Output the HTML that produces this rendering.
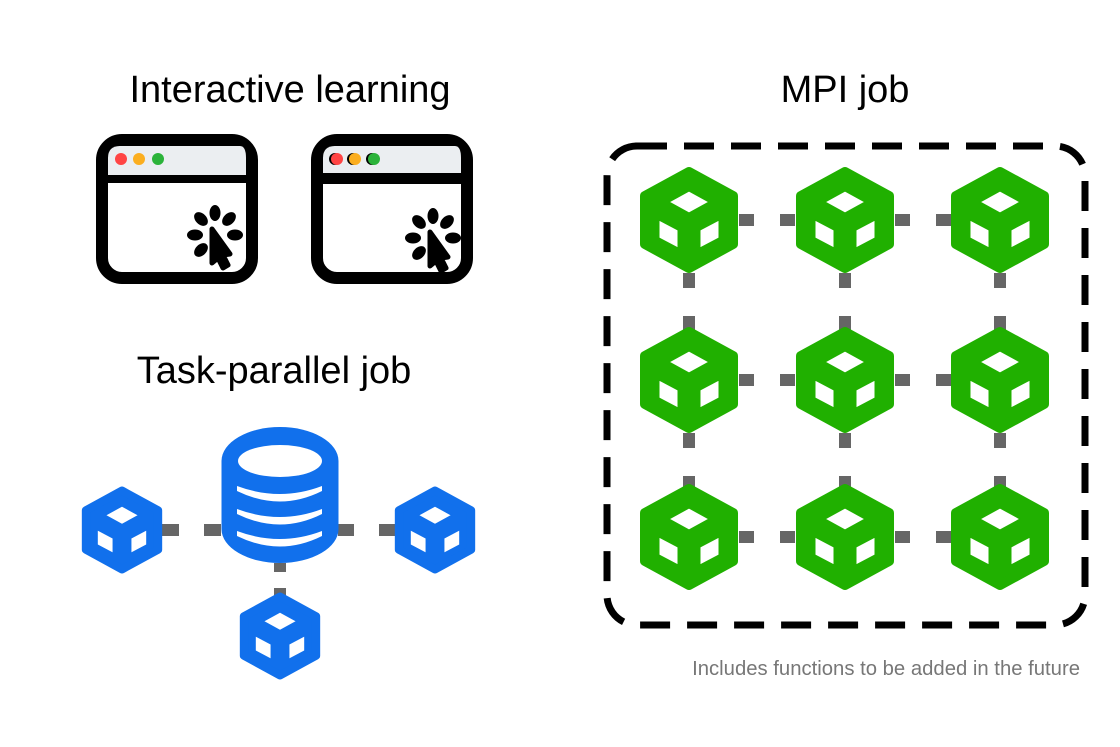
<!DOCTYPE html>
<html><head><meta charset="utf-8"><style>
html,body{margin:0;padding:0;background:#fff;}
svg{display:block;}
text{font-family:"Liberation Sans",sans-serif;}
</style></head><body>
<svg width="1120" height="747" viewBox="0 0 1120 747" xmlns="http://www.w3.org/2000/svg">
<defs>
<g id="cube">
<polygon points="0,-48 44,-24 44,24 0,48 -44,24 -44,-24" stroke-linejoin="round" stroke-width="10"/>
<polygon points="0,-29 20,-18 0,-7 -20,-18" fill="#fff"/>
<polygon points="-30,0 -11,10 -11,28 -30,18" fill="#fff"/>
<polygon points="11,10 30,0 30,18 11,28" fill="#fff"/>
</g>
<g id="burst">
<g fill="#000">
<ellipse cx="0" cy="-21" rx="5.5" ry="8"/>
<ellipse cx="-14" cy="-15" rx="5.5" ry="8" transform="rotate(-45 -14 -15)"/>
<ellipse cx="14" cy="-15" rx="5.5" ry="8" transform="rotate(45 14 -15)"/>
<ellipse cx="-20" cy="1" rx="8" ry="5.5"/>
<ellipse cx="20" cy="1" rx="8" ry="5.5"/>
<ellipse cx="-14" cy="16" rx="5.5" ry="8" transform="rotate(45 -14 16)"/>
<path d="M-3,-5 L15,20 L8,21 L13,31 L8,34 L3,24 L-3,29 Z" stroke="#000" stroke-width="5" stroke-linejoin="round"/>
</g>
</g>
</defs>

<text x="290" y="102" font-size="38" text-anchor="middle" fill="#000">Interactive learning</text>
<text x="845" y="102" font-size="38" text-anchor="middle" fill="#000">MPI job</text>
<text x="274" y="383" font-size="38" text-anchor="middle" fill="#000">Task-parallel job</text>
<text x="1080" y="675" font-size="20.3" text-anchor="end" fill="#777">Includes functions to be added in the future</text>

<!-- browser 1 -->
<rect x="102" y="140" width="150" height="138" rx="20" fill="#fff" stroke="#000" stroke-width="12"/>
<path d="M108,175 V158 Q108,146 120,146 H240 Q246,146 246,158 V175 Z" fill="#ebeef1"/>
<rect x="102" y="175" width="150" height="8" fill="#000"/>
<circle cx="121" cy="159" r="6" fill="#f44"/>
<circle cx="139" cy="159" r="6" fill="#fbae1f"/>
<circle cx="158" cy="159" r="6" fill="#2bb33a"/>
<use href="#burst" x="215" y="234"/>

<!-- browser 2 -->
<rect x="317" y="140" width="150" height="138" rx="20" fill="#fff" stroke="#000" stroke-width="12"/>
<path d="M323,177 V158 Q323,146 335,146 H455 Q461,146 461,158 V177 Z" fill="#ebeef1"/>
<rect x="317" y="173" width="150" height="11" fill="#000"/>
<circle cx="335" cy="159" r="6" fill="#000"/><circle cx="337" cy="159" r="6" fill="#f44"/>
<circle cx="353" cy="159" r="6" fill="#000"/><circle cx="355" cy="159" r="6" fill="#fbae1f"/>
<circle cx="372" cy="159" r="6" fill="#000"/><circle cx="374" cy="159" r="6" fill="#2bb33a"/>
<use href="#burst" x="433" y="237"/>

<!-- dashed box -->
<rect x="607" y="146" width="478" height="479" rx="30" fill="none" stroke="#000" stroke-width="7" stroke-dasharray="30 17"/>

<!-- MPI connectors -->
<g fill="#666">
<g id="hrow">
<rect x="739" y="214" width="15" height="12"/><rect x="780" y="214" width="15" height="12"/>
<rect x="895" y="214" width="15" height="12"/><rect x="936" y="214" width="15" height="12"/>
</g>
<use href="#hrow" y="160"/><use href="#hrow" y="317"/>
<g id="vcol">
<rect x="683" y="273" width="12" height="15"/><rect x="683" y="316" width="12" height="14"/>
<rect x="683" y="433" width="12" height="15"/><rect x="683" y="476" width="12" height="14"/>
</g>
<use href="#vcol" x="156"/><use href="#vcol" x="311"/>
</g>
<g fill="#20b000" stroke="#20b000">
<use href="#cube" x="689" y="220"/><use href="#cube" x="845" y="220"/><use href="#cube" x="1000" y="220"/>
<use href="#cube" x="689" y="380"/><use href="#cube" x="845" y="380"/><use href="#cube" x="1000" y="380"/>
<use href="#cube" x="689" y="537"/><use href="#cube" x="845" y="537"/><use href="#cube" x="1000" y="537"/>
</g>

<!-- task parallel -->
<g fill="#666">
<rect x="162" y="524" width="17" height="12"/><rect x="204" y="524" width="17" height="12"/>
<rect x="338" y="524" width="16" height="12"/><rect x="379" y="524" width="16" height="12"/>
<rect x="274" y="563" width="12" height="9"/><rect x="274" y="588" width="12" height="8"/>
</g>
<g fill="#1170ec" stroke="#1170ec">
<g transform="translate(122,530) scale(0.82)"><use href="#cube"/></g>
<g transform="translate(435,530) scale(0.82)"><use href="#cube"/></g>
<g transform="translate(280,636) scale(0.82)"><use href="#cube"/></g>
</g>
<g fill="#1170ec">
<ellipse cx="280" cy="461" rx="58.5" ry="34"/>
<rect x="221.5" y="461" width="117" height="68"/>
<ellipse cx="280" cy="529" rx="58.5" ry="34"/>
</g>
<ellipse cx="280" cy="461" rx="42" ry="16" fill="#fff"/>
<g fill="#fff">
<path d="M237,486 Q280,502 322,486 L322,491 Q280,512 237,491 Z"/>
<path d="M237,509 Q280,525 322,509 L322,514 Q280,535 237,514 Z"/>
<path d="M237,531 Q280,547 322,531 L322,536 Q280,557 237,536 Z"/>
</g>
</svg>
</body></html>
